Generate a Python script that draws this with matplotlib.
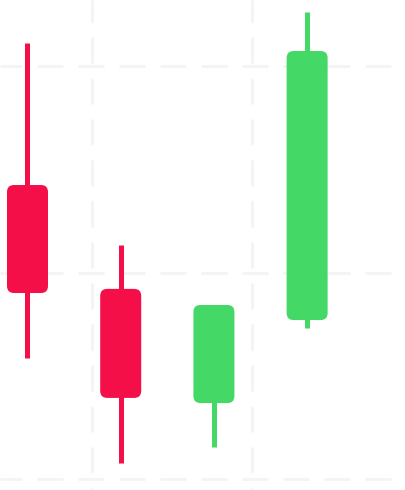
import matplotlib
matplotlib.use("Agg")
import matplotlib.pyplot as plt
from matplotlib.patches import FancyBboxPatch

# data
positions = [0, 1, 2, 3]
opens = [104.26, 99.23, 93.70, 97.72]
highs = [111.14, 101.36, 98.45, 112.64]
lows = [95.88, 90.80, 91.57, 97.34]
closes = [99.03, 93.95, 98.45, 110.75]
y_grid = [90, 100, 110]
x_grid = [0.692, 2.409]

UP = "#44D966"
DOWN = "#F40F48"
GRID = "#F4F4F4"

W, H, DPI = 405, 490, 100
PT = 72 / DPI  # points per pixel
fig = plt.figure(figsize=(W / DPI, H / DPI), dpi=DPI)
ax = fig.add_axes([0, 0, 1, 1])
ax.set_xlim(-0.295, 4.05)
ax.set_ylim(89.49, 113.22)
for s in ax.spines.values():
    s.set_visible(False)
ax.set_xticks(x_grid)
ax.set_yticks(y_grid)
ax.tick_params(length=0, labelbottom=False, labelleft=False)
lw = 3 * PT
dash = 26 * PT / lw
gap = 15 * PT / lw
ax.grid(True, color=GRID, linewidth=lw)
for gl in ax.get_ygridlines():
    gl.set_linestyle((4 * PT / lw, (dash, gap)))
for gl in ax.get_xgridlines():
    gl.set_linestyle((24 * PT / lw, (dash, gap)))
ax.set_axisbelow(True)

# px per unit
xppu = W / (4.05 + 0.295)
yppu = H / (113.22 - 89.49)
body_w = 41 / xppu
r_px = 7
rx = r_px / xppu
aspect = (r_px / yppu) / rx

for x, o, h, l, c in zip(positions, opens, highs, lows, closes):
    col = UP if c >= o else DOWN
    ax.vlines(x, l, h, color=col, linewidth=3.6, capstyle="butt", zorder=2)
    lo, hi = min(o, c), max(o, c)
    p = FancyBboxPatch((x - body_w / 2, lo), body_w, hi - lo,
                       boxstyle=f"round,pad=0,rounding_size={rx}",
                       mutation_aspect=aspect, facecolor=col,
                       edgecolor="none", zorder=3)
    ax.add_patch(p)

fig.savefig("out.png", dpi=DPI, facecolor="white")
